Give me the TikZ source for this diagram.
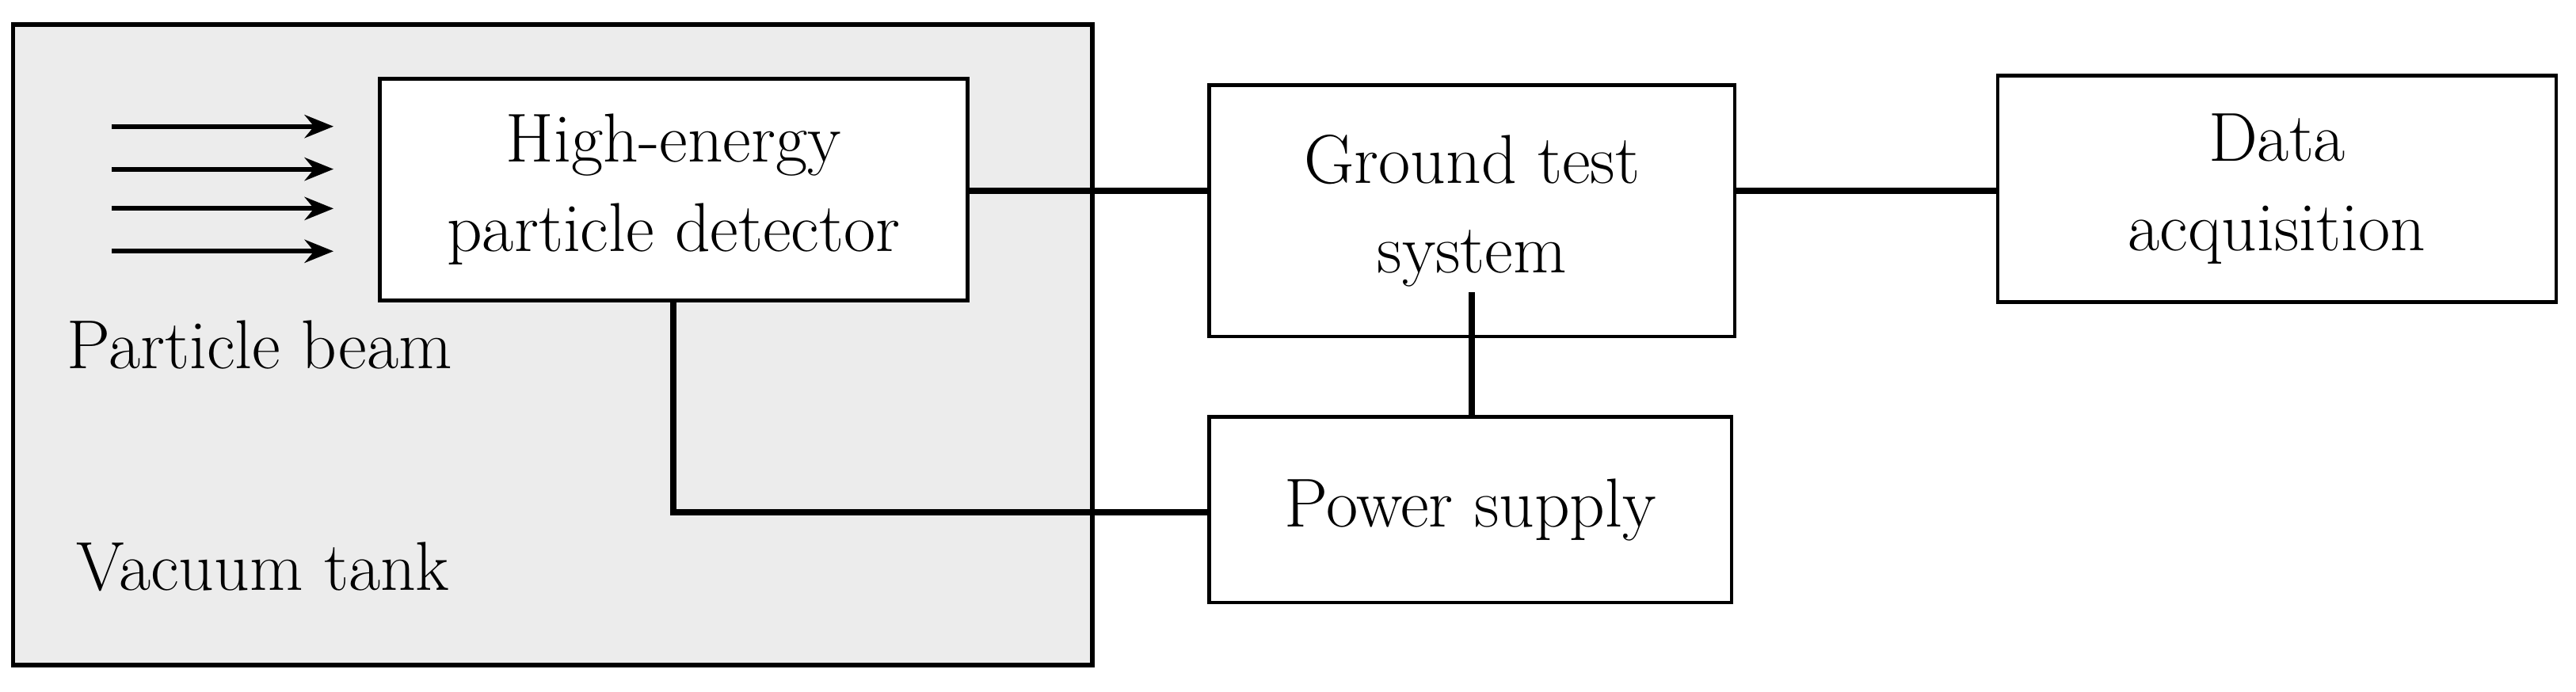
\documentclass[tikz,border=0pt]{standalone}
\usetikzlibrary{arrows.meta}
\begin{document}
\begin{tikzpicture}[x=0.02cm,y=-0.02cm,
  txt/.style={font=\fontsize{24}{31}\selectfont},
  box/.style={draw,line width=1.3pt,fill=white,align=center,inner sep=0pt,txt},
  conn/.style={line width=2.2pt},
  beam/.style={line width=1.6pt,-{Stealth[length=10pt,width=8pt]}}]
\useasboundingbox (0,0) rectangle (1568,421);
\fill[gray!15] (8,15) rectangle (665,405);
\draw[line width=1.5pt] (8,15) rectangle (665,405);
\node[box,minimum width=7.16cm,minimum height=2.7cm] (det) at (410,115.5) {High-energy\\particle detector};
\node[box,minimum width=6.4cm,minimum height=3.06cm] (gnd) at (896,128.5) {Ground test\\system};
\node[box,minimum width=6.8cm,minimum height=2.76cm] (daq) at (1386,115) {Data\\acquisition};
\node[box,minimum width=6.36cm,minimum height=2.26cm] (pow) at (895,310.5) {Power supply};
\node[txt] (pb) at (158,210) {Particle beam};
\node[txt] (vt) at (160,345) {Vacuum tank};
\coordinate (gB) at (896,178);
\draw[conn] (det.east |- 0,116) -- (gnd.west |- 0,116);
\draw[conn] (gnd.east |- 0,116) -- (daq.west |- 0,116);
\draw[conn] (gB) -- (pow.north -| gB);
\draw[conn] (det.south) |- (pow.west |- 0,312);
\foreach \y/\n in {77/a,103/b,127/c,153/d}{
  \coordinate (s\n) at (68,\y); \coordinate (e\n) at (203,\y);
  \draw[beam] (s\n) -- (e\n);}
\end{tikzpicture}
\end{document}
